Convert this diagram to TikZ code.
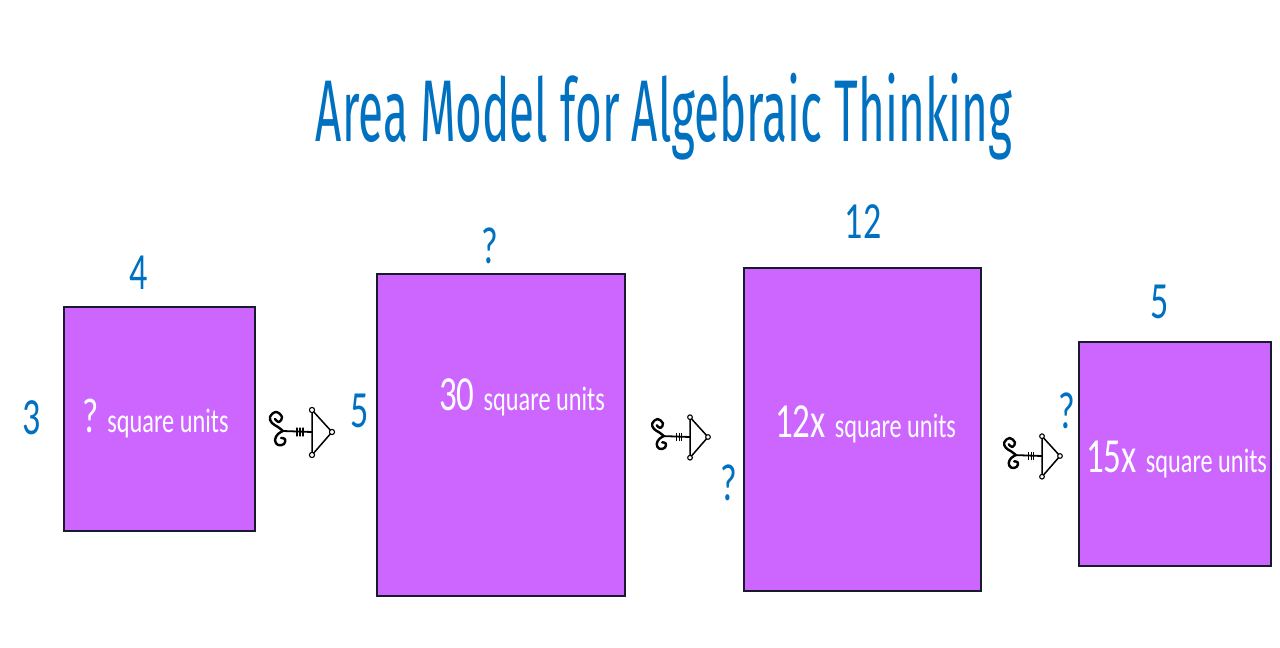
\documentclass[tikz,border=0pt]{standalone}
\usepackage{fontspec}
\setmainfont{Carlito}
\newfontfamily\titlefont{Fira Sans}
\definecolor{boxfill}{HTML}{CC66FF}
\definecolor{labblue}{HTML}{0070C0}
\definecolor{boxedge}{HTML}{1A1A2E}
\newcommand{\bigt}[1]{{\fontsize{35}{35}\selectfont #1}}
\newcommand{\smallt}[1]{{\fontsize{24.3}{25}\selectfont #1}}
\newcommand{\stretchy}[1]{\scalebox{1}[1.4]{#1}}
\newcommand{\labt}[1]{\scalebox{1}[1.45]{\fontsize{36}{36}\selectfont #1}}
\tikzset{
  areabox/.style={draw=boxedge, line width=1.2pt, fill=boxfill},
  boxtext/.style={anchor=base west, inner sep=0pt, text=white},
  sidelabel/.style={inner sep=0pt, text=labblue},
  arrowline/.style={draw=black, line width=1.8pt, line cap=round, line join=round},
  curlyarrow/.pic={
    \draw[arrowline] (-29,-1) -- (0,0);
    \draw[arrowline, line width=1.1pt] (-15,-4) -- (-15,4) (-12,-4) -- (-12,4) (-9,-4) -- (-9,4);
    \draw[arrowline, line width=1.5pt] (0,-22) -- (0,23) -- (20,0) -- cycle;
    \draw[arrowline, line width=2.4pt] plot[smooth, tension=0.7] coordinates {(-29,-1) (-34,-5) (-40,-9) (-42,-15) (-36,-20) (-30,-15) (-33,-10) (-37,-13)};
    \draw[arrowline, line width=2.4pt] plot[smooth, tension=0.7] coordinates {(-29,-1) (-34,2) (-37,8) (-34,13) (-28,12) (-27,7) (-31,6)};
    \foreach \p in {(0,-22),(0,23),(20,0)} \draw[line width=1.1pt, fill=white] \p circle (2.6);
  }
}
\begin{document}
\begin{tikzpicture}[x=1pt, y=-1pt]
\fill[white] (0,0) rectangle (1280,648);
\useasboundingbox (0,0) rectangle (1280,648);

% title
\node[inner sep=0pt, text=labblue] (title) at (664,116.5)
  {\resizebox*{696pt}{87pt}{\titlefont Area Model for Algebraic Thinking}};

% boxes
\draw[areabox] (64,307) rectangle (255,531);
\draw[areabox] (377,274) rectangle (625,596);
\draw[areabox] (744,268) rectangle (981,591);
\draw[areabox] (1079,342) rectangle (1271,566);

% box texts
\node[boxtext] (t1) at (82,432) {\stretchy{\bigt{?}\hspace{9pt}\smallt{square units}}};
\node[boxtext] (t2) at (439,410) {\stretchy{\bigt{30}\hspace{9pt}\smallt{square units}}};
\node[boxtext] (t3) at (775,437) {\stretchy{\bigt{12x}\hspace{9pt}\smallt{square units}}};
\node[boxtext] (t4) at (1086,472) {\stretchy{\bigt{15x}\hspace{9pt}\smallt{square units}}};

% side labels
\node[sidelabel] (l1) at (139,273) {\labt{4}};
\node[sidelabel] (l2) at (32,418) {\labt{3}};
\node[sidelabel] (l3) at (490,246) {\labt{?}};
\node[sidelabel] (l4) at (360,411) {\labt{5}};
\node[sidelabel] (l5) at (863,222) {\labt{12}};
\node[sidelabel] (l6) at (729,483) {\labt{?}};
\node[sidelabel] (l7) at (1160,302) {\labt{5}};
\node[sidelabel] (l8) at (1067,411) {\labt{?}};

% arrows
\pic at (312,432) {curlyarrow};
\pic[scale=0.9] at (690,437) {curlyarrow};
\pic[scale=0.9] at (1042,456) {curlyarrow};
\end{tikzpicture}
\end{document}
